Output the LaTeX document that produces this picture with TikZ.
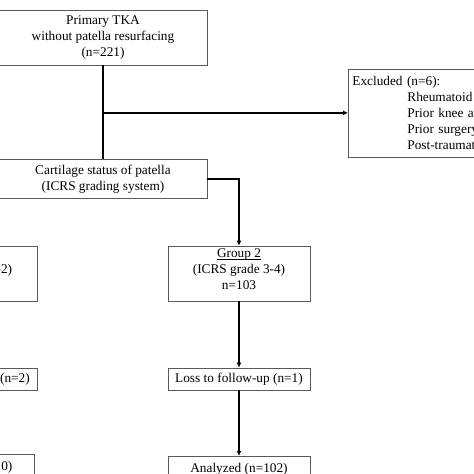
\documentclass[tikz,border=0pt]{standalone}
\usepackage{fontspec}
\setmainfont{Liberation Serif}
\usetikzlibrary{arrows.meta}

\begin{document}
\begin{tikzpicture}[x=1pt,y=-1pt,
  box/.style={draw=black!65,line width=0.8pt,align=center,inner sep=2pt,
    font=\fontsize{13.3}{16}\selectfont},
  link/.style={line width=1.8pt},
  arr/.style={line width=1.8pt,-{Latex[length=5pt,width=5pt]}}]
\useasboundingbox (0,0) rectangle (474,474);
\clip (0,0) rectangle (474,474);

\node[box,minimum width=208pt,minimum height=55pt] (primary) at (103,37.5)
  {Primary TKA\\without patella resurfacing\\(n=221)};
\node[box,minimum width=208pt,minimum height=39pt] (cartilage) at (103,179)
  {Cartilage status of patella\\(ICRS grading system)};
\node[box,anchor=north west,align=left,inner sep=4pt,text width=200pt,
  minimum height=88pt,font=\fontsize{13.3}{15.8}\selectfont] (excluded) at (348,68.5)
  {Excluded (n=6):\\
   \hspace*{55pt}Rheumatoid arthritis\\
   \hspace*{55pt}Prior knee arthroplasty\\
   \hspace*{55pt}Prior surgery\\
   \hspace*{55pt}Post-traumatic arthritis};

\node[box,minimum width=142pt,minimum height=55pt] (group1) at (-34,273.5)
  {\underline{\smash{Group 1}}\\(ICRS grade 0-2)\\n=112};
\node[box,minimum width=142pt,minimum height=22pt] (loss1) at (-34,379)
  {Loss to follow-up (n=2)};
\node[box,anchor=north,minimum width=140pt,minimum height=26pt] (analyzed1) at (-36,454)
  {Analyzed (n=110)};

\node[box,minimum width=142pt,minimum height=55pt] (group2) at (239,273.5)
  {\underline{\smash{Group 2}}\\(ICRS grade 3-4)\\n=103};
\node[box,minimum width=142pt,minimum height=22pt] (loss2) at (239,379)
  {Loss to follow-up (n=1)};
\node[box,anchor=north,minimum width=142pt,minimum height=26pt] (analyzed2) at (239,456)
  {Analyzed (n=102)};

\draw[link] (primary.south) -- (cartilage.north);
\draw[arr] (primary.south |- excluded.west) -- (excluded.west);
\draw[arr] (cartilage.east) -| (group2.north);
\draw[arr] (group2.south) -- (loss2.north);
\draw[arr] (loss2.south) -- (analyzed2.north);
\end{tikzpicture}
\end{document}
